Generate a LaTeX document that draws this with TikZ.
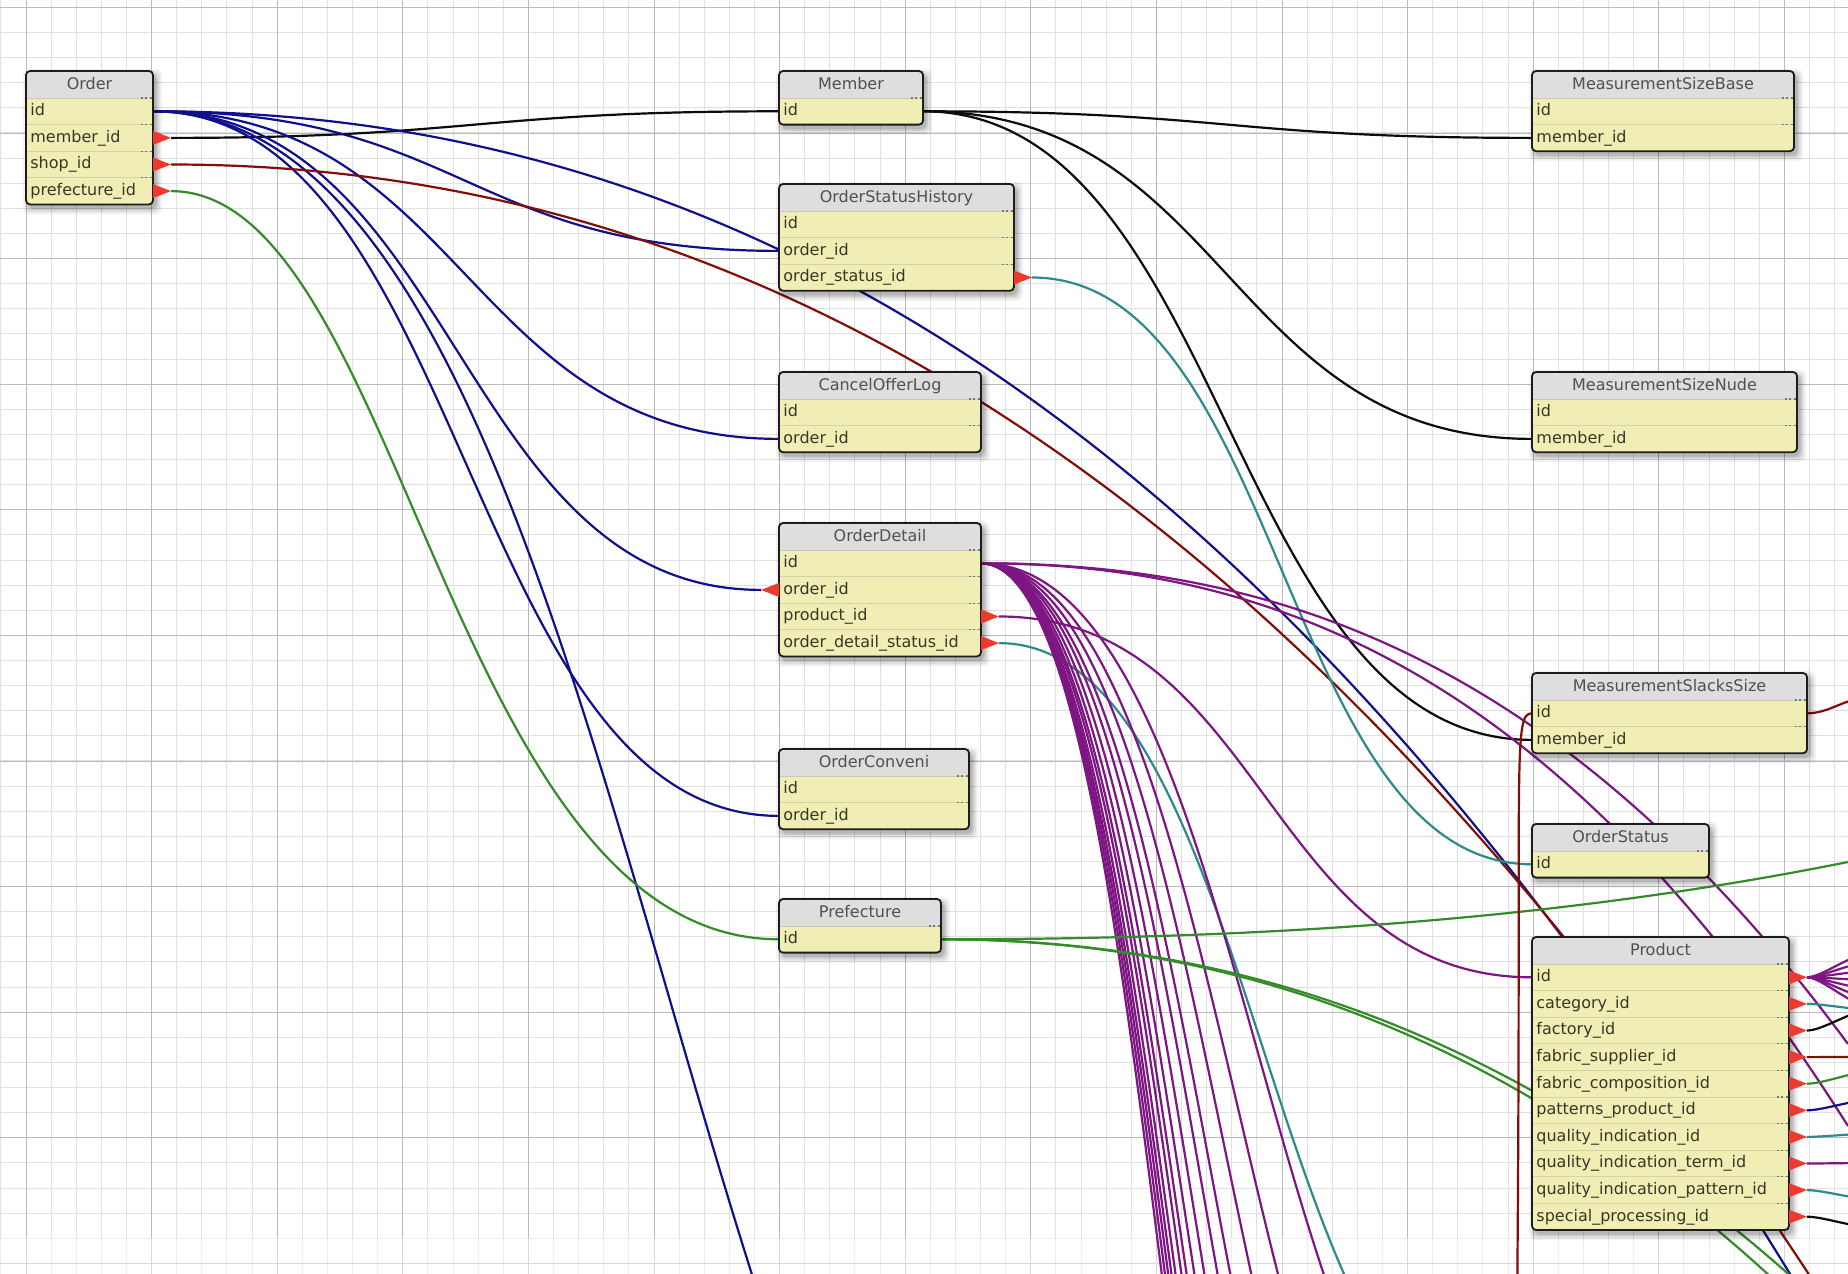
\documentclass[tikz,border=0pt]{standalone}
\usepackage{fontspec}
\setmainfont{DejaVu Sans}
\usetikzlibrary{calc}
\pgfdeclarelayer{bg}
\pgfdeclarelayer{links}
\pgfsetlayers{bg,links,main}
\definecolor{gmajor}{RGB}{186,186,186}
\definecolor{gminor}{RGB}{224,224,224}
\definecolor{hdr}{RGB}{222,222,222}
\definecolor{rowc}{RGB}{240,238,180}
\definecolor{sepc}{RGB}{212,210,172}
\definecolor{hdrl}{RGB}{200,200,185}
\definecolor{dotc}{RGB}{120,120,110}
\definecolor{bord}{RGB}{28,28,28}
\definecolor{htext}{RGB}{80,80,80}
\definecolor{rtext}{RGB}{55,55,40}
\definecolor{cblue}{RGB}{16,16,140}
\definecolor{cblack}{RGB}{12,12,12}
\definecolor{cred}{RGB}{130,14,8}
\definecolor{cgreen}{RGB}{52,140,40}
\definecolor{cteal}{RGB}{45,138,138}
\definecolor{cpurple}{RGB}{125,22,130}
\definecolor{fkred}{RGB}{236,58,46}
\tikzset{
  rel/.style={line width=1.1pt},
  hdrtext/.style={font=\fontsize{8}{9}\selectfont, text=htext, inner sep=0pt, text height=6pt, text depth=1.6pt},
  rowtext/.style={font=\fontsize{8}{9}\selectfont, text=rtext, inner sep=0pt, anchor=west, text height=6pt, text depth=1.6pt},
  gridminor/.style={draw=gminor, line width=0.5pt},
  gridmajor/.style={draw=gmajor, line width=0.6pt},
  tbox/.style={draw=bord, line width=0.9pt, rounded corners=2pt},
  sepline/.style={draw=sepc, line width=0.5pt},
  hdrline/.style={draw=hdrl, line width=0.5pt},
  sepdots/.style={draw=dotc, line width=0.6pt, dash pattern=on 1pt off 1.2pt},
}
\newcommand\ertable[6]{%
  \pgfmathsetmacro\erX{#2}\pgfmathsetmacro\erY{#3}\pgfmathsetmacro\erW{#4}%
  \foreach \r [count=\i] in {#6} {\xdef\ern{\i}}%
  \pgfmathsetmacro\erH{27+26.6*\ern}%
  \foreach \s/\o in {12/0.05,8/0.07,4/0.09,1/0.10} {\fill[black,opacity=\o,rounded corners=3pt] ({\erX+3-\s/2},{\erY+4-\s/2}) rectangle ({\erX+\erW+3+\s/2},{\erY+\erH+4+\s/2});}%
  \fill[rowc,rounded corners=2pt] (\erX,\erY) rectangle ({\erX+\erW},{\erY+\erH});%
  \fill[hdr,rounded corners=2pt] (\erX,\erY) rectangle ({\erX+\erW},{\erY+32});%
  \fill[rowc] (\erX,{\erY+27}) rectangle ({\erX+\erW},{\erY+34});%
  \draw[hdrline] (\erX,{\erY+27}) -- ({\erX+\erW},{\erY+27});%
  \draw[sepdots] ({\erX+\erW-12},{\erY+27}) -- ({\erX+\erW},{\erY+27});%
  \node[hdrtext] (#1) at ({\erX+\erW/2},{\erY+14}) {#5};%
  \foreach \r [count=\i] in {#6} {%
    \pgfmathsetmacro\yc{\erY+27+26.6*(\i-0.5)}%
    \coordinate (#1-\i-w) at (\erX,\yc);%
    \coordinate (#1-\i-e) at ({\erX+\erW},\yc);%
    \coordinate (#1-\i-wa) at ({\erX-18},\yc);%
    \coordinate (#1-\i-ea) at ({\erX+\erW+18},\yc);%
    \node[rowtext] (#1-r\i) at ({\erX+4},\yc) {\r};%
    \ifnum\i<\ern
      \draw[sepline] (\erX,{\yc+13.3}) -- ({\erX+\erW},{\yc+13.3});%
      \draw[sepdots] ({\erX+\erW-12},{\yc+13.3}) -- ({\erX+\erW},{\yc+13.3});%
    \fi%
  }%
  \draw[tbox] (\erX,\erY) rectangle ({\erX+\erW},{\erY+\erH});%
}
\newcommand\fkeast[1]{\fill[fkred] ($(#1)+(0,-7)$) -- ($(#1)+(18,0)$) -- ($(#1)+(0,7)$) -- cycle;}
\newcommand\fkwest[1]{\fill[fkred] ($(#1)+(0,-7)$) -- ($(#1)+(-18,0)$) -- ($(#1)+(0,7)$) -- cycle;}
\begin{document}
\begin{tikzpicture}[x=0.5pt,y=-0.5pt]
\useasboundingbox (0,0) rectangle (1848,1274);
% ---------- grid ----------
\begin{pgfonlayer}{bg}
\fill[white] (0,0) rectangle (1848,1274);
\foreach \j in {0,...,73} {\pgfmathsetmacro\gx{int(0.9+25.12*\j)+0.5}\draw[gridminor] (\gx,0) -- (\gx,1274);}
\foreach \j in {0,...,50} {\pgfmathsetmacro\gy{int(7.4+25.12*\j)+0.5}\draw[gridminor] (0,\gy) -- (1848,\gy);}
\foreach \j in {0,...,14} {\pgfmathsetmacro\gx{int(26+125.6*\j)+0.5}\draw[gridmajor] (\gx,0) -- (\gx,1274);}
\foreach \j in {0,...,10} {\pgfmathsetmacro\gy{int(7.4+125.6*\j)+0.5}\draw[gridmajor] (0,\gy) -- (1848,\gy);}
\fill[white,opacity=0.45] (0,1238) rectangle (1848,1274);
\end{pgfonlayer}
% ---------- tables ----------
\ertable{order}{26}{71}{127}{Order}{id,member\_id,shop\_id,prefecture\_id}
\ertable{member}{779}{71}{144}{Member}{id}
\ertable{osh}{779}{184}{235}{OrderStatusHistory}{id,order\_id,order\_status\_id}
\ertable{msb}{1532}{71}{262}{MeasurementSizeBase}{id,member\_id}
\ertable{msn}{1532}{372}{265}{MeasurementSizeNude}{id,member\_id}
\ertable{col}{779}{372}{202}{CancelOfferLog}{id,order\_id}
\ertable{od}{779}{523}{202}{OrderDetail}{id,order\_id,product\_id,order\_detail\_status\_id}
\ertable{oc}{779}{749}{190}{OrderConveni}{id,order\_id}
\ertable{pref}{779}{899}{162}{Prefecture}{id}
\ertable{mss}{1532}{673}{275}{MeasurementSlacksSize}{id,member\_id}
\ertable{os}{1532}{824}{177}{OrderStatus}{id}
\ertable{product}{1532}{937}{257}{Product}{id,category\_id,factory\_id,fabric\_supplier\_id,fabric\_composition\_id,patterns\_product\_id,quality\_indication\_id,quality\_indication\_term\_id,quality\_indication\_pattern\_id,special\_processing\_id}
% ---------- FK markers ----------
\fkeast{order-2-e}\fkeast{order-3-e}\fkeast{order-4-e}
\fkeast{osh-3-e}
\fkwest{od-2-w}\fkeast{od-3-e}\fkeast{od-4-e}
\foreach \k in {1,...,10} {\fkeast{product-\k-e}}
% ---------- connectors ----------
\begin{pgfonlayer}{links}
\begin{scope}
\clip (0,0) rectangle (1848,1274);
% Order
\draw[rel,cblack] (order-2-ea) .. controls +(300,0) and +(-300,0) .. (member-1-w);
\draw[rel,cblue] (order-1-e) .. controls +(313,0) and +(-313,0) .. (osh-2-w);
\coordinate (offA) at (1848,1371);
\draw[rel,cblue] (order-1-e) .. controls (718,111) and (1283,402) .. (offA);
\draw[rel,cblue] (order-1-e) .. controls +(313,0) and +(-313,0) .. (col-2-w);
\draw[rel,cblue] (order-1-e) .. controls +(305,0) and +(-305,0) .. (od-2-wa);
\draw[rel,cblue] (order-1-e) .. controls +(313,0) and +(-313,0) .. (oc-2-w);
\coordinate (offC) at (1187,1890);
\draw[rel,cblue] (order-1-e) .. controls (670,111) and (670,1890) .. (offC);
\coordinate (offB) at (1848,1335);
\draw[rel,cred] (order-3-ea) .. controls (729,164.5) and (1289,455) .. (offB);
\draw[rel,cgreen] (order-4-ea) .. controls +(230,0) and +(-330,0) .. (pref-1-w);
% Member
\draw[rel,cblack] (member-1-e) .. controls +(305,0) and +(-305,0) .. (msb-2-w);
\draw[rel,cblack] (member-1-e) .. controls +(305,0) and +(-305,0) .. (msn-2-w);
\draw[rel,cblack] (member-1-e) .. controls +(305,0) and +(-305,0) .. (mss-2-w);
% status
\draw[rel,cteal] (osh-3-ea) .. controls +(250,0) and +(-250,0) .. (os-1-w);
\coordinate (offD) at (1528,1457);
\draw[rel,cteal] (od-4-ea) .. controls +(264,0) and +(-264,0) .. (offD);
% OrderDetail
\draw[rel,cpurple] (od-3-ea) .. controls +(267,0) and +(-267,0) .. (product-1-w);
\foreach \s [count=\n] in {0,0.026,0.052,0.078,0.11,0.156,0.195,0.253,0.325,0.416,0.5,0.63,0.78,1} {
  \pgfmathsetmacro\mx{1165+95*\s}
  \pgfmathsetmacro\my{1300-240*\s}
  \coordinate (odb\n) at ({2*\mx-981},{2*\my-563.3});
  \draw[rel,cpurple] (od-1-e) .. controls (\mx,563.3) and (\mx,{2*\my-563.3}) .. (odb\n);
}
\coordinate (offPU) at (1848,1044);
\coordinate (offPL) at (1848,1126);
\draw[rel,cpurple] (od-1-e) .. controls (1270,563.3) and (1559,653) .. (offPU);
\draw[rel,cpurple] (od-1-e) .. controls (1270,563.3) and (1559,669) .. (offPL);
% Prefecture
\coordinate (offG1) at (1848,862);
\coordinate (offG2) at (1848,1329);
\coordinate (offG3) at (1848,1352);
\draw[rel,cgreen] (pref-1-e) .. controls (1243,939.3) and (1546,922.5) .. (offG1);
\draw[rel,cgreen] (pref-1-e) .. controls (1243,939.3) and (1546,1037.7) .. (offG2);
\draw[rel,cgreen] (pref-1-e) .. controls (1240,939.3) and (1546,1040) .. (offG3);
% MeasurementSlacksSize
\coordinate (offE) at (1517,1320);
\draw[rel,cred] (mss-1-w) .. controls (1512,713.3) and (1522,760) .. (offE);
\coordinate (offF) at (1862,699);
\draw[rel,cred] (mss-1-e) .. controls +(22,0) and +(-18,0) .. (offF);
% Product right side
\foreach \k in {0,...,6} {
  \coordinate (pf\k) at (1872,{953+9*\k});
  \draw[rel,cpurple] (product-1-ea) .. controls +(15,0) and +(-20,0) .. (pf\k);
}
\coordinate (pr2) at (1862,1009);
\coordinate (pr3) at (1862,1012);
\coordinate (pr4) at (1862,1057);
\coordinate (pr5) at (1862,1073);
\coordinate (pr6) at (1862,1101);
\coordinate (pr7) at (1862,1134);
\coordinate (pr8) at (1862,1163);
\coordinate (pr9) at (1862,1198);
\coordinate (pr10) at (1862,1226);
\draw[rel,cteal] (product-2-ea) .. controls +(15,0) and +(-12,0) .. (pr2);
\draw[rel,cblack] (product-3-ea) .. controls +(15,0) and +(-12,0) .. (pr3);
\draw[rel,cred] (product-4-ea) .. controls +(15,0) and +(-12,0) .. (pr4);
\draw[rel,cgreen] (product-5-ea) .. controls +(15,0) and +(-12,0) .. (pr5);
\draw[rel,cblue] (product-6-ea) .. controls +(15,0) and +(-12,0) .. (pr6);
\draw[rel,cteal] (product-7-ea) .. controls +(15,0) and +(-12,0) .. (pr7);
\draw[rel,cpurple] (product-8-ea) .. controls +(15,0) and +(-12,0) .. (pr8);
\draw[rel,cteal] (product-9-ea) .. controls +(15,0) and +(-12,0) .. (pr9);
\draw[rel,cblack] (product-10-ea) .. controls +(15,0) and +(-12,0) .. (pr10);
\end{scope}
\end{pgfonlayer}
\end{tikzpicture}
\end{document}
